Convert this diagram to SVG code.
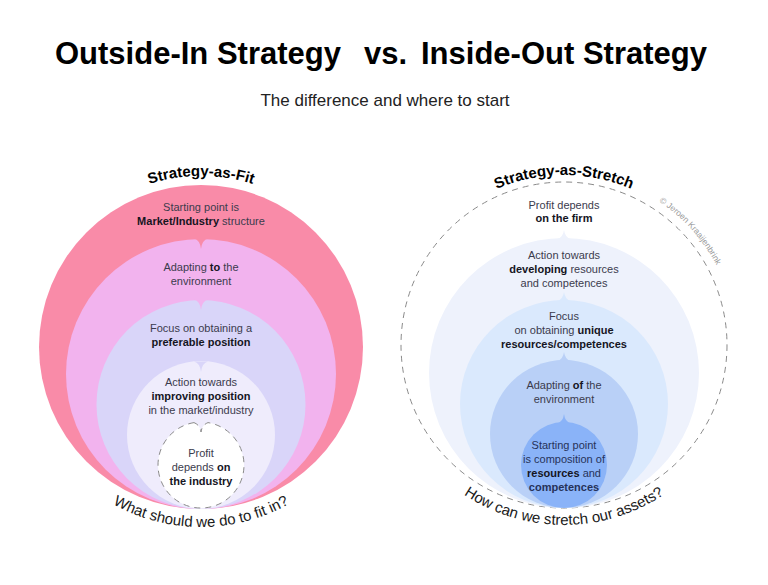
<svg xmlns="http://www.w3.org/2000/svg" width="768" height="585" viewBox="0 0 768 585">
<defs>
<style>
.t{font-family:"Liberation Sans",Arial,sans-serif;font-size:11px;fill:#3b3b4d;text-anchor:middle}
.tb{font-weight:bold;fill:#15151f}
.tr{fill:#263258}
.h{font-family:"Liberation Sans",Arial,sans-serif;font-weight:bold;fill:#000}
.cap{font-family:"Liberation Sans",Arial,sans-serif;font-size:15px;fill:#1a1a1a}
.dash{fill:none;stroke:#8a8a8a;stroke-width:1;stroke-dasharray:6 5}
</style>
<path id="arcFitTop" d="M 30,347 A 171 171 0 0 1 372,347"/>
<path id="arcFitBot" d="M 21,347 A 180 180 0 0 0 381,347"/>
<path id="arcStrTop" d="M 394,345 A 170 170 0 0 1 734,345"/>
<path id="arcStrBot" d="M 384,345 A 180 180 0 0 0 744,345"/>
<path id="arcCopy" d="M 659,201.5 A 172 172 0 0 1 736,345"/>
</defs>
<rect width="768" height="585" fill="#fff"/>

<g id="title">
<text class="h" x="55" y="64" font-size="31">Outside-In Strategy</text>
<text class="h" x="364" y="64" font-size="31">vs.</text>
<text class="h" x="421" y="64" font-size="31">Inside-Out Strategy</text>
<text x="385" y="106" font-family="Liberation Sans, Arial, sans-serif" font-size="17" fill="#222" text-anchor="middle">The difference and where to start</text>
</g>

<!-- Left: Strategy-as-Fit -->
<g id="fit-label">
<text class="h" font-size="15"><textPath href="#arcFitTop" startOffset="50%" text-anchor="middle">Strategy-as-Fit</textPath></text>
</g>
<g id="fit-1">
<circle cx="201" cy="347" r="162" fill="#F98BA8"/>
<text class="t" x="201" y="211">Starting point is</text>
<text class="t" x="201" y="225"><tspan class="tb">Market/Industry</tspan> structure</text>
</g>
<g id="fit-2">
<circle cx="201" cy="374" r="135" fill="#F2B3EE"/>
<path d="M 194,238.5 Q 200,240 201,249 Q 202,240 208,238.5 Z" fill="#F98BA8"/>
<text class="t" x="201" y="271">Adapting <tspan class="tb">to</tspan> the</text>
<text class="t" x="201" y="285">environment</text>
</g>
<g id="fit-3">
<circle cx="201" cy="404.5" r="104.5" fill="#D9D5F9"/>
<path d="M 194,299.5 Q 200,301 201,310 Q 202,301 208,299.5 Z" fill="#F2B3EE"/>
<text class="t" x="201" y="332">Focus on obtaining a</text>
<text class="t tb" x="201" y="346">preferable position</text>
</g>
<g id="fit-4">
<circle cx="201" cy="435" r="74" fill="#EFECFC"/>
<path d="M 194,361.5 Q 200,363 201,372 Q 202,363 208,361.5 Z" fill="#D9D5F9"/>
<text class="t" x="201" y="386">Action towards</text>
<text class="t tb" x="201" y="400">improving position</text>
<text class="t" x="201" y="414">in the market/industry</text>
</g>
<g id="fit-5">
<path class="dash" d="M 194,422.6 A 43 43 0 1 0 208,422.6 Q 202,425 201,432 Q 200,425 194,422.6 Z" style="fill:#fff"/>
<text class="t" x="201" y="457">Profit</text>
<text class="t" x="201" y="471">depends <tspan class="tb">on</tspan></text>
<text class="t tb" x="201" y="485">the industry</text>
</g>
<g id="fit-question">
<text class="cap"><textPath href="#arcFitBot" startOffset="50%" text-anchor="middle">What should we do to fit in?</textPath></text>
</g>

<!-- Right: Strategy-as-Stretch -->
<g id="stretch-label">
<text class="h" font-size="15"><textPath href="#arcStrTop" startOffset="50%" text-anchor="middle">Strategy-as-Stretch</textPath></text>
<text font-family="Liberation Sans, Arial, sans-serif" font-size="8.5" fill="#9a9a9a"><textPath href="#arcCopy">© Jeroen Kraaijenbrink</textPath></text>
</g>
<g id="stretch-0">
<circle cx="564" cy="345" r="163" fill="#fff" class="dash"/>
<text class="t" x="564" y="209">Profit depends</text>
<text class="t tb" x="564" y="222">on the firm</text>
</g>
<g id="stretch-1">
<circle cx="564" cy="373" r="135" fill="#EEF2FC"/>
<path d="M 557,239 Q 563,237.5 564,230 Q 565,237.5 571,239 Z" fill="#EEF2FC"/>
<text class="t" x="564" y="259">Action towards</text>
<text class="t" x="564" y="273"><tspan class="tb">developing</tspan> resources</text>
<text class="t" x="564" y="287">and competences</text>
</g>
<g id="stretch-2">
<circle cx="564" cy="404" r="104" fill="#DAE9FD"/>
<path d="M 557,301 Q 563,299.5 564,292 Q 565,299.5 571,301 Z" fill="#DAE9FD"/>
<text class="t" x="564" y="320">Focus</text>
<text class="t" x="564" y="334">on obtaining <tspan class="tb">unique</tspan></text>
<text class="t tb" x="564" y="348">resources/competences</text>
</g>
<g id="stretch-3">
<circle cx="564" cy="434" r="74" fill="#B9D0F7"/>
<path d="M 557,361 Q 563,359.5 564,352 Q 565,359.5 571,361 Z" fill="#B9D0F7"/>
<text class="t" x="564" y="389">Adapting <tspan class="tb">of</tspan> the</text>
<text class="t" x="564" y="403">environment</text>
</g>
<g id="stretch-4">
<circle cx="564" cy="465" r="43" fill="#8AB3F8"/>
<path d="M 557,423.5 Q 563,422 564,414 Q 565,422 571,423.5 Z" fill="#8AB3F8"/>
<text class="t tr" x="564" y="449">Starting point</text>
<text class="t tr" x="564" y="463">is composition of</text>
<text class="t tr" x="564" y="477"><tspan class="tb">resources</tspan> and</text>
<text class="t tr tb" x="564" y="491">competences</text>
</g>
<g id="stretch-question">
<text class="cap"><textPath href="#arcStrBot" startOffset="50%" text-anchor="middle">How can we stretch our assets?</textPath></text>
</g>
<g id="connectors"/>
</svg>
